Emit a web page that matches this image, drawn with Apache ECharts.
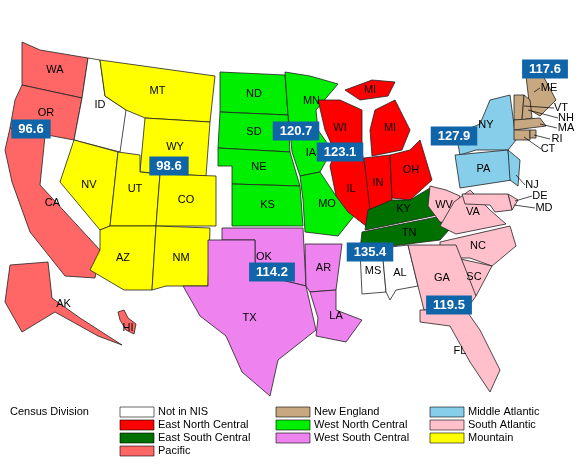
<!DOCTYPE html>
<html><head><meta charset="utf-8">
<script src="https://cdn.jsdelivr.net/npm/echarts@6/dist/echarts.min.js"></script>
<style>html,body{margin:0;padding:0;background:#fff}#c{width:586px;height:470px}</style>
</head><body><div id="c"></div>
<script>
// Data
const divisions = ['Not in NIS','East North Central','East South Central','Pacific','New England','West North Central','West South Central','Middle Atlantic','South Atlantic','Mountain'];
const divisionColors = ['#ffffff','#ff0000','#007000','#ff6666','#c8a880','#00ee00','#ee82ee','#87ceeb','#ffc0cb','#ffff00'];
const stateDivision = {
  WA:'Pacific',OR:'Pacific',CA:'Pacific',AK:'Pacific',HI:'Pacific',
  ID:'Not in NIS',MS:'Not in NIS',AL:'Not in NIS',
  MT:'Mountain',WY:'Mountain',NV:'Mountain',UT:'Mountain',CO:'Mountain',AZ:'Mountain',NM:'Mountain',
  ND:'West North Central',SD:'West North Central',NE:'West North Central',KS:'West North Central',MN:'West North Central',IA:'West North Central',MO:'West North Central',
  OK:'West South Central',TX:'West South Central',AR:'West South Central',LA:'West South Central',
  WI:'East North Central',MI:'East North Central',IL:'East North Central',IN:'East North Central',OH:'East North Central',
  KY:'East South Central',TN:'East South Central',
  WV:'South Atlantic',VA:'South Atlantic',NC:'South Atlantic',SC:'South Atlantic',GA:'South Atlantic',FL:'South Atlantic',DE:'South Atlantic',MD:'South Atlantic',
  NY:'Middle Atlantic',PA:'Middle Atlantic',NJ:'Middle Atlantic',
  ME:'New England',VT:'New England',NH:'New England',MA:'New England',CT:'New England',RI:'New England'
};
const valueDivisions = ['Pacific','Mountain','West North Central','East North Central','Middle Atlantic','New England','East South Central','West South Central','South Atlantic'];
const values = [96.6,98.6,120.7,123.1,127.9,117.6,135.4,114.2,119.5];
// label anchor positions (map space)
const labelAnchors = [[31,129],[169,166],[296,131],[340,152],[454,136],[545,69],[370,252],[272,272],[449,305]];

// Base map geometry (simplified)
const shapes = {
 WA:'22,42 40,50 88,58 82,98 45,90 22,85',
 OR:'22,85 45,90 82,98 74,140 10,128 15,100',
 CA:'10,128 45,136 40,185 100,250 95,278 65,276 30,232 12,182 5,150',
 AK:'10,265 48,262 52,298 80,318 122,345 98,336 55,312 22,332 5,302',
 HI:'118,312 124,310 128,318 136,324 134,334 126,330 120,320',
 ID:'88,58 100,60 105,96 126,110 120,152 74,140 82,98',
 MT:'100,60 215,76 210,122 145,118 126,110 105,96',
 WY:'145,118 210,122 206,176 140,172',
 NV:'74,140 118,152 110,226 100,230 60,182',
 UT:'118,152 140,155 140,172 160,174 156,226 110,226',
 CO:'160,174 216,176 216,226 156,226',
 AZ:'110,226 156,226 152,290 124,290 90,270 100,250 100,230',
 NM:'156,226 210,228 208,286 166,286 152,290',
 ND:'220,72 285,75 288,115 220,112',
 MN:'285,72 310,76 338,84 316,110 318,130 290,130 288,115',
 SD:'220,112 288,115 290,152 218,148',
 NE:'218,148 290,152 300,186 232,184 232,166 218,166',
 KS:'232,184 300,186 303,226 232,226',
 IA:'290,130 318,130 332,150 320,172 300,176 292,152',
 MO:'300,176 320,172 336,196 354,216 338,236 305,232 303,200',
 OK:'222,228 303,228 306,286 265,276 255,262 255,240 222,240',
 TX:'222,240 255,240 255,262 265,276 306,286 316,330 278,360 270,396 242,372 226,336 200,316 183,286 208,286 208,240',
 AR:'305,244 342,244 336,290 310,292 306,286',
 LA:'310,292 336,290 336,310 362,320 346,342 316,336 318,318',
 WI:'318,100 340,100 362,110 362,146 356,156 335,152 325,130',
 MI:'345,90 372,80 395,82 388,96 360,100',
 MI2:'375,110 395,100 410,130 402,150 372,156 370,130',
 IL:'335,152 362,152 372,200 366,226 348,212 336,196 330,166',
 IN:'364,158 390,155 392,200 370,210',
 OH:'390,155 410,150 420,140 432,180 410,200 392,198',
 KY:'368,210 392,200 410,200 430,188 442,214 385,226 365,230',
 TN:'362,232 442,216 458,220 440,240 360,250',
 MS:'360,250 382,248 386,292 362,294',
 AL:'382,248 408,245 418,286 396,290 390,300 386,292',
 WV:'430,186 446,190 460,196 452,224 440,222 428,206',
 VA:'440,226 454,202 470,190 490,210 506,224 456,234',
 NC:'440,242 510,226 516,246 492,266 470,258 440,258',
 SC:'456,258 492,266 476,296 460,276',
 GA:'408,245 456,245 476,296 466,310 424,310 418,286',
 FL:'420,310 466,310 480,330 500,370 490,392 470,362 450,326 420,322',
 DE:'508,194 518,200 512,210',
 MD:'462,194 508,194 512,210 495,212 490,205 465,204',
 NY:'456,134 480,124 490,100 510,95 516,140 508,150 476,150 460,155',
 PA:'455,155 508,150 512,180 460,188',
 NJ:'508,150 520,160 518,186 510,180',
 ME:'526,76 540,70 556,100 540,116 530,110',
 VT:'514,95 524,95 522,120 514,120',
 NH:'524,95 530,100 532,118 522,120',
 MA:'514,120 540,118 546,126 514,130',
 CT:'514,130 530,130 530,140 514,140',
 RI:'530,130 536,130 536,138 530,138'
};
let svg = '<svg xmlns="http://www.w3.org/2000/svg" width="586" height="470" viewBox="0 0 586 470">';
for (const k in shapes) {
  const name = k === 'MI2' ? 'MI' : k;
  svg += '<polygon name="'+name+'" points="'+shapes[k]+'" fill="#fff" stroke="#000" stroke-width="0.8"/>';
}
svg += '</svg>';
echarts.registerMap('us', {svg: svg});

const smallStates = ['DE','MD','ME','VT','NH','MA','CT','RI','NJ','HI'];
const regions = Object.keys(stateDivision).map(s => ({
  name: s,
  itemStyle: {areaColor: divisionColors[divisions.indexOf(stateDivision[s])], borderColor:'#222', borderWidth:0.8},
  label: {show: !smallStates.includes(s)}
}));

// Leader labels for small states
const smallLabels = [['ME',549,88],['VT',561,108],['NH',566,118],['MA',566,128],['RI',557,139],['CT',548,149],['NJ',532,185],['DE',540,196],['MD',544,208],['HI',128,328]];
const leaders = [[540,88,534,92],[554,108,524,106],[558,118,528,110],[557,128,540,124],[550,139,534,135],[541,149,524,137],[525,185,516,175],[532,196,515,201],[535,208,514,205]];

const chart = echarts.init(document.getElementById('c'));
const gfx = [];
leaders.forEach(l => gfx.push({type:'line', shape:{x1:l[0],y1:l[1],x2:l[2],y2:l[3]}, style:{stroke:'#000', lineWidth:0.7}, z:5}));
const cols = [[0,1,2,3],[4,5,6],[7,8,9]];
const colX = [120,276,430];
cols.forEach((col,ci) => col.forEach((di,ri) => {
  const y = 407 + ri*13;
  gfx.push({type:'rect', shape:{x:colX[ci], y:y, width:34, height:10}, style:{fill:divisionColors[di], stroke:'#000', lineWidth:0.6}});
  gfx.push({type:'text', x:colX[ci]+38, y:y-1, style:{text:divisions[di], fill:'#000', font:'11px Arial, Liberation Sans, sans-serif'}});
}));
gfx.push({type:'text', x:10, y:406, style:{text:'Census Division', fill:'#000', font:'11px Arial, Liberation Sans, sans-serif'}});

chart.setOption({
  animation:false,
  geo: {
    map:'us', roam:false, silent:true, left:0, top:0, width:586, height:470,
    label:{show:true, fontSize:11, color:'#000', fontFamily:'Arial, Liberation Sans, sans-serif'},
    itemStyle:{borderColor:'#222', borderWidth:0.8},
    emphasis:{disabled:true},
    regions: regions
  },
  series: [
    {type:'scatter', coordinateSystem:'geo', symbolSize:0, silent:true, itemStyle:{opacity:1},
     data: smallLabels.map(d => ({name:d[0], value:[d[1],d[2]]})),
     label:{show:true, formatter:'{b}', color:'#000', fontSize:11, position:'inside', fontFamily:'Arial, Liberation Sans, sans-serif'}},
    {type:'scatter', coordinateSystem:'geo', symbolSize:0, silent:true, z:10, itemStyle:{opacity:1},
     data: values.map((v,i) => ({name:valueDivisions[i], value:[labelAnchors[i][0], labelAnchors[i][1], v]})),
     label:{show:true, position:'inside', formatter: p => p.value[2].toFixed(1), color:'#fff', fontWeight:'bold', fontSize:13, opacity:1,
       backgroundColor:'#1064a8', padding:[3,7], fontFamily:'Arial, Liberation Sans, sans-serif'}}
  ],
  graphic: gfx
});
</script></body></html>
